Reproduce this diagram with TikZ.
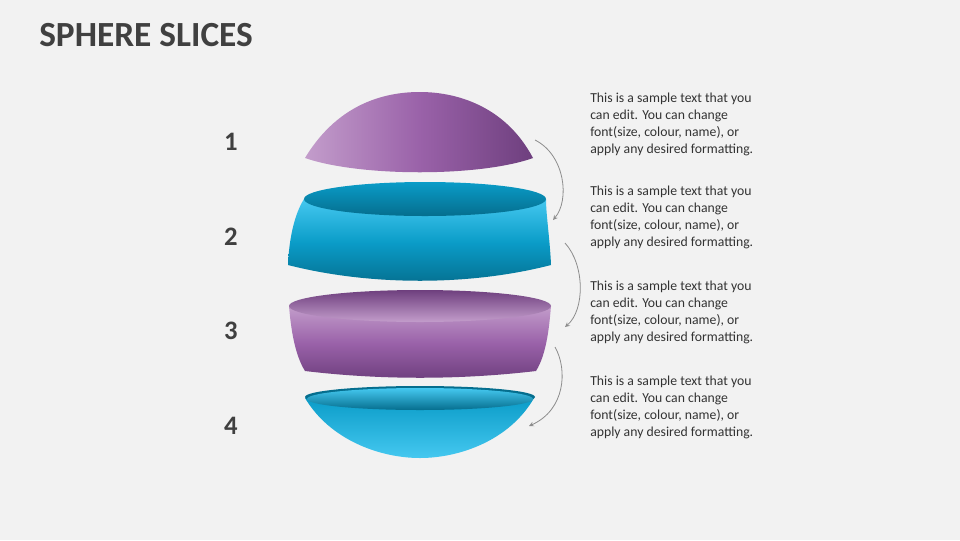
\documentclass[tikz,border=0pt]{standalone}
\usepackage{fontspec}
\setmainfont{Carlito}
\begin{document}
\begin{tikzpicture}[x=0.75pt,y=-0.75pt,
  num/.style={font=\bfseries\fontsize{20}{24}\selectfont,text=black!75},
  txt/.style={font=\fontsize{10.3}{12.7}\selectfont,text=black!80,align=left,anchor=north west,inner sep=0pt},
  arr/.style={->,>=stealth,draw=black!45,line width=0.6pt}]
\definecolor{pl}{HTML}{C39DCB}\definecolor{pm}{HTML}{9A62A9}\definecolor{pd}{HTML}{6E3F7E}
\definecolor{bl}{HTML}{45C8F0}\definecolor{bm}{HTML}{0A9CC8}\definecolor{bd}{HTML}{056E8E}
\fill[black!5] (0,0) rectangle (960,540);
\useasboundingbox (0,0) rectangle (960,540);
\node[anchor=west,font=\bfseries\fontsize{26.5}{30}\selectfont,text=black!75,inner sep=0pt] (title) at (39,35) {SPHERE SLICES};
% slice 1
\shade[left color=pl,right color=pd,middle color=pm] (305,158) .. controls (340,100) and (390,92) .. (420,92) .. controls (455,92) and (505,105) .. (533,158) .. controls (480,177) and (360,177) .. cycle;
% slice 2
\shade[top color=bl,bottom color=bd,middle color=bm] (304,199) .. controls (294,215) and (289,240) .. (288,265) .. controls (370,286) and (470,286) .. (551,265) .. controls (550,240) and (546,215) .. (546,199) -- cycle;
\shade[top color=bm,bottom color=bd] (425,199) ellipse [x radius=121,y radius=17];
% slice 3
\shade[top color=pl,bottom color=pd,middle color=pm] (289,306) .. controls (291,330) and (295,355) .. (305,371) .. controls (380,380) and (460,380) .. (536,371) .. controls (546,355) and (549,330) .. (551,306) -- cycle;
\shade[top color=pd,bottom color=pl] (420,306) ellipse [x radius=131,y radius=16];
% slice 4
\shade[top color=bm,bottom color=bl] (305,398) .. controls (330,440) and (380,458) .. (420,458) .. controls (460,458) and (510,440) .. (534,398) -- cycle;
\fill[bd] (420,397) ellipse [x radius=115,y radius=11];
\shade[top color=bl,bottom color=bd] (420,399) ellipse [x radius=113,y radius=11];
% numbers
\node[num] (n1) at (231,142) {1};
\node[num] (n2) at (231,237) {2};
\node[num] (n3) at (231,331) {3};
\node[num] (n4) at (231,426) {4};
% texts
\foreach \i/\y in {1/93,2/186,3/281,4/376}{
\node[txt] (t\i) at (590,\y) {This is a sample text that you\\can edit. You can change\\font(size, colour, name), or\\apply any desired formatting.};}
\coordinate (a1) at (535,140); \coordinate (b1) at (553,220);
\coordinate (a2) at (565,243); \coordinate (b2) at (565,327);
\coordinate (a3) at (555,347); \coordinate (b3) at (529,426);
\draw[arr] (a1) .. controls (565,155) and (570,200) .. (b1);
\draw[arr] (a2) .. controls (585,265) and (585,310) .. (b2);
\draw[arr] (a3) .. controls (568,370) and (565,410) .. (b3);
\end{tikzpicture}
\end{document}
